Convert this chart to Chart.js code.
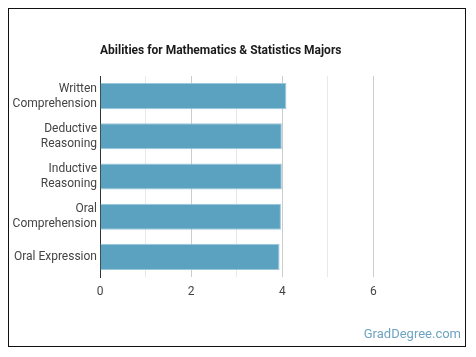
<!DOCTYPE html>
<html>
<head>
<meta charset="utf-8">
<script src="https://cdn.jsdelivr.net/npm/chart.js@4/dist/chart.umd.min.js"></script>
<style>
html,body{margin:0;padding:0;background:#fff;}
#wrap{position:relative;width:476px;height:357px;}
</style>
</head>
<body>
<div id="wrap"><canvas id="c" width="476" height="357"></canvas></div>
<script>
const chartTitle = "Abilities for Mathematics & Statistics Majors";
const categories = [["Written","Comprehension"],["Deductive","Reasoning"],["Inductive","Reasoning"],["Oral","Comprehension"],"Oral Expression"];
const values = [4.09, 3.99, 3.99, 3.97, 3.94];
const tickLabels = ["0","2","4","6"];
const watermark = "GradDegree.com";

const framePlugin = {
  id: 'frame',
  afterDraw(chart) {
    const ctx = chart.ctx;
    ctx.save();
    ctx.strokeStyle = '#111';
    ctx.lineWidth = 1;
    ctx.strokeRect(8.5, 8.5, 457, 338);
    ctx.fillStyle = '#1a1a1a';
    ctx.font = 'bold 12px Roboto';
    ctx.textBaseline = 'middle';
    ctx.textAlign = 'left';
    ctx.fillText(chartTitle, chart.chartArea.left, 51);
    ctx.fillStyle = '#6fa3c2';
    ctx.font = '13px Roboto';
    ctx.textAlign = 'right';
    ctx.fillText(watermark, 461, 335);
    ctx.restore();
  }
};

new Chart(document.getElementById('c'), {
  type: 'bar',
  data: {
    labels: categories,
    datasets: [{
      data: values,
      backgroundColor: '#5ba2c1',
      borderColor: '#9cc7da',
      borderWidth: 1,
      barPercentage: 0.65,
      categoryPercentage: 1
    }]
  },
  options: {
    indexAxis: 'y',
    responsive: false,
    animation: false,
    layout: { padding: { top: 76, left: 8, right: 57, bottom: 50 } },
    plugins: { legend: { display: false }, title: { display: false }, tooltip: { enabled: false } },
    scales: {
      x: {
        min: 0, max: 7,
        ticks: {
          stepSize: 1,
          color: '#444',
          font: { family: 'Roboto', size: 12 },
          padding: 8,
          callback: (v) => (v % 2 === 0 && tickLabels.includes(String(v))) ? String(v) : ''
        },
        grid: {
          drawTicks: false,
          color: (c) => c.tick.value === 7 ? 'rgba(0,0,0,0)' : (c.tick.value % 2 === 0 ? '#cccccc' : '#e8e8e8')
        },
        border: { display: false },
        afterFit: (s) => { s.height = 30; }
      },
      y: {
        ticks: {
          color: '#444',
          font: { family: 'Roboto', size: 12, lineHeight: 1.25 },
          padding: 3
        },
        grid: { display: false, drawTicks: false },
        border: { display: true, color: '#333', width: 1 },
        afterFit: (s) => { s.width = 92; }
      }
    }
  },
  plugins: [framePlugin]
});
</script>
</body>
</html>
